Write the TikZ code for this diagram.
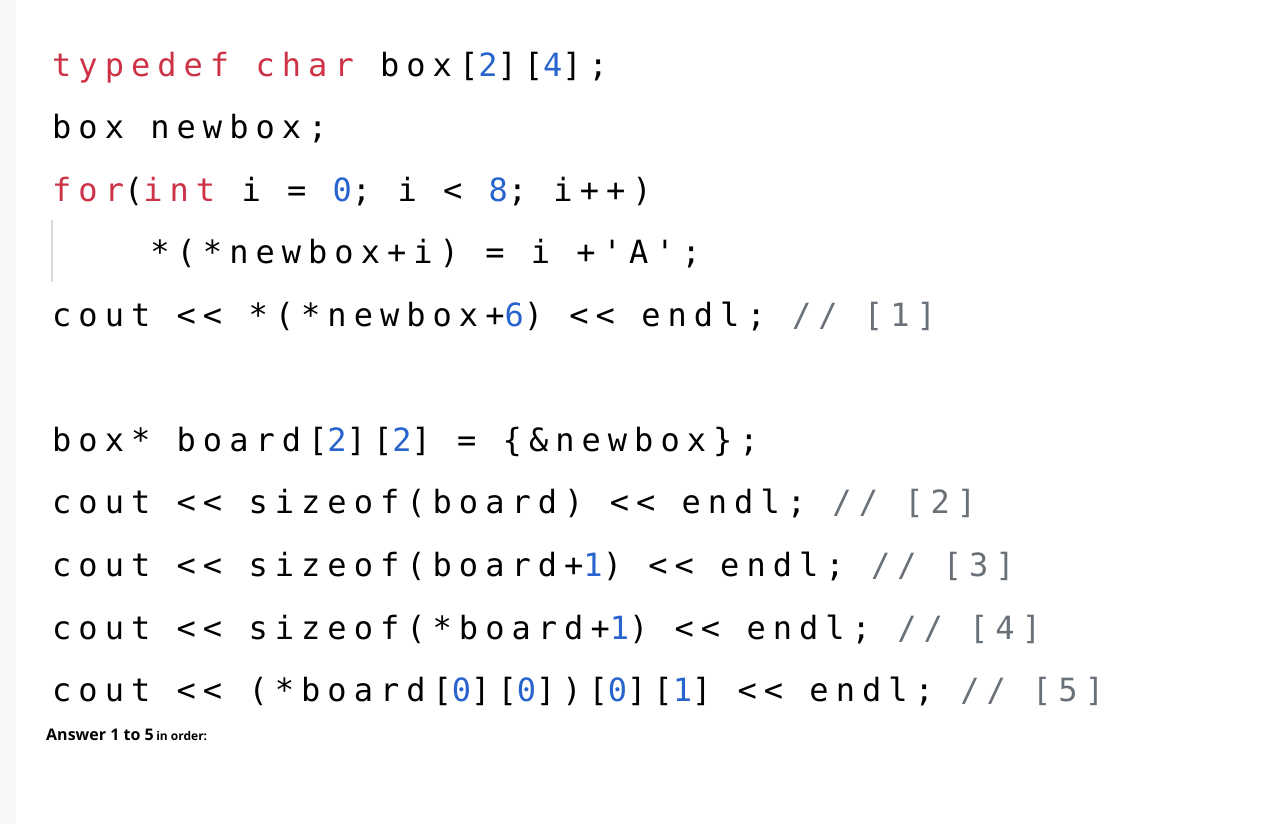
\documentclass[tikz,border=0pt]{standalone}
\usepackage{fontspec}
\newfontfamily\code[LetterSpace=22]{DejaVu Sans Mono}
\newfontfamily\ans{Open Sans}
\definecolor{kw}{RGB}{205,50,70}
\definecolor{num}{RGB}{40,100,205}
\definecolor{cm}{RGB}{105,112,120}
\newcommand{\K}[1]{\textcolor{kw}{#1}}
\newcommand{\N}[1]{\textcolor{num}{#1}}
\newcommand{\C}[1]{\textcolor{cm}{#1}}
\begin{document}
\begin{tikzpicture}[x=1pt,y=-1pt,
  ln/.style={anchor=base west,inner sep=0pt,font=\code\fontsize{32}{32}\selectfont}]
\useasboundingbox (0,0) rectangle (1274,824);
\fill[white] (0,0) rectangle (1274,824);
\fill[black!3] (0,0) rectangle (16,824);
\fill[black!15] (51,220) rectangle (53,282);
\node[ln] (l1) at (52,77) {\K{typedef} \K{char} box[\N{2}][\N{4}];};
\node[ln] (l2) at (52,139) {box newbox;};
\node[ln] (l3) at (52,201) {\K{for}(\K{int} i = \N{0}; i < \N{8}; i++)};
\node[ln] (l4) at (52,263) {\hphantom{xxxx}*(*newbox+i) = i +'A';};
\node[ln] (l5) at (52,326) {cout << *(*newbox+\N{6}) << endl; \C{// [1]}};
\node[ln] (l6) at (52,451) {box* board[\N{2}][\N{2}] = \{\&newbox\};};
\node[ln] (l7) at (52,513) {cout << sizeof(board) << endl; \C{// [2]}};
\node[ln] (l8) at (52,576) {cout << sizeof(board+\N{1}) << endl; \C{// [3]}};
\node[ln] (l9) at (52,639) {cout << sizeof(*board+\N{1}) << endl; \C{// [4]}};
\node[ln] (l10) at (52,701) {cout << (*board[\N{0}][\N{0}])[\N{0}][\N{1}] << endl; \C{// [5]}};
\node[anchor=base west,inner sep=0pt,font=\ans\bfseries] (a) at (46,740)
  {{\fontsize{16}{17}\selectfont Answer 1 to 5} {\fontsize{12}{13}\selectfont in order:}};
\end{tikzpicture}
\end{document}
